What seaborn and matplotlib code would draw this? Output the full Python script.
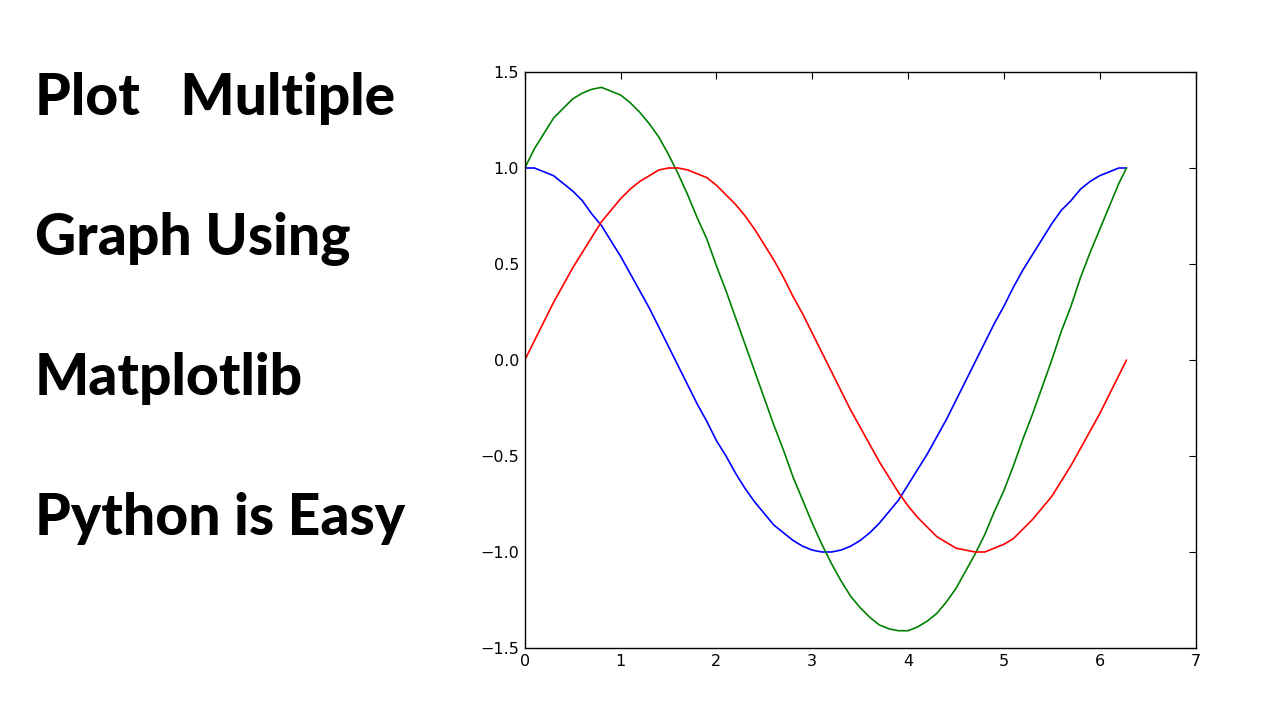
import pandas as pd
import matplotlib.pyplot as plt
import seaborn as sns

# Values at x steps of 0.1 (last point at 2*pi)
x_vals = [round(0.1 * i, 1) for i in range(63)] + [6.28]
sin_vals = [0.00, 0.10, 0.20, 0.30, 0.39, 0.48, 0.56, 0.64, 0.72, 0.78,
            0.84, 0.89, 0.93, 0.96, 0.99, 1.00, 1.00, 0.99, 0.97, 0.95,
            0.91, 0.86, 0.81, 0.75, 0.68, 0.60, 0.52, 0.43, 0.33, 0.24,
            0.14, 0.04, -0.06, -0.16, -0.26, -0.35, -0.44, -0.53, -0.61, -0.69,
            -0.76, -0.82, -0.87, -0.92, -0.95, -0.98, -0.99, -1.00, -1.00, -0.98,
            -0.96, -0.93, -0.88, -0.83, -0.77, -0.71, -0.63, -0.55, -0.46, -0.37,
            -0.28, -0.18, -0.08, 0.00]
cos_vals = [1.00, 1.00, 0.98, 0.96, 0.92, 0.88, 0.83, 0.76, 0.70, 0.62,
            0.54, 0.45, 0.36, 0.27, 0.17, 0.07, -0.03, -0.13, -0.23, -0.32,
            -0.42, -0.50, -0.59, -0.67, -0.74, -0.80, -0.86, -0.90, -0.94, -0.97,
            -0.99, -1.00, -1.00, -0.99, -0.97, -0.94, -0.90, -0.85, -0.79, -0.73,
            -0.65, -0.57, -0.49, -0.40, -0.31, -0.21, -0.11, -0.01, 0.09, 0.19,
            0.28, 0.38, 0.47, 0.55, 0.63, 0.71, 0.78, 0.83, 0.89, 0.93,
            0.96, 0.98, 1.00, 1.00]
sum_vals = [1.00, 1.10, 1.18, 1.26, 1.31, 1.36, 1.39, 1.41, 1.42, 1.40,
            1.38, 1.34, 1.29, 1.23, 1.16, 1.07, 0.97, 0.86, 0.74, 0.63,
            0.49, 0.36, 0.22, 0.08, -0.06, -0.20, -0.34, -0.47, -0.61, -0.73,
            -0.85, -0.96, -1.06, -1.15, -1.23, -1.29, -1.34, -1.38, -1.40, -1.41,
            -1.41, -1.39, -1.36, -1.32, -1.26, -1.19, -1.10, -1.01, -0.91, -0.79,
            -0.68, -0.55, -0.41, -0.28, -0.14, 0.00, 0.15, 0.28, 0.43, 0.56,
            0.68, 0.80, 0.92, 1.00]

title_lines = ["Plot   Multiple", "Graph Using", "Matplotlib", "Python is Easy"]

n = len(x_vals)
df = pd.DataFrame({"x": x_vals * 3,
                   "y": cos_vals + sum_vals + sin_vals,
                   "curve": ["cos"] * n + ["sum"] * n + ["sin"] * n})

sns.set_style("white", {"text.color": "black", "xtick.color": "black",
                        "ytick.color": "black", "axes.edgecolor": "black"})
plt.rcParams["font.family"] = ["DejaVu Sans"]
plt.rcParams["xtick.direction"] = "in"
plt.rcParams["ytick.direction"] = "in"
plt.rcParams["xtick.top"] = True
plt.rcParams["ytick.right"] = True

fig = plt.figure(figsize=(12.8, 7.2), dpi=100)
ax = fig.add_axes([0.410, 0.1, 0.524, 0.8])

sns.lineplot(data=df, x="x", y="y", hue="curve", palette=["blue", "green", "red"],
             linewidth=1.2, legend=False, ax=ax, sort=False)

ax.set_xlim(0, 7)
ax.set_ylim(-1.5, 1.5)
ax.set_xticks(range(0, 8))
ax.set_yticks([-1.5, -1.0, -0.5, 0.0, 0.5, 1.0, 1.5])
ax.set_xlabel("")
ax.set_ylabel("")
ax.tick_params(labelsize=11.5, length=5, width=0.8, color="black", labelcolor="black", pad=4)
for s in ax.spines.values():
    s.set_linewidth(1.0)

# Title text on the left side
for i, line in enumerate(title_lines):
    fig.text(35 / 1280, 1 - (115 + 140 * i) / 720, line, fontsize=41, color="black",
             family=["Lato", "DejaVu Sans"], fontweight="black", va="baseline", ha="left")

fig.savefig("out.png", dpi=100, facecolor="white")
